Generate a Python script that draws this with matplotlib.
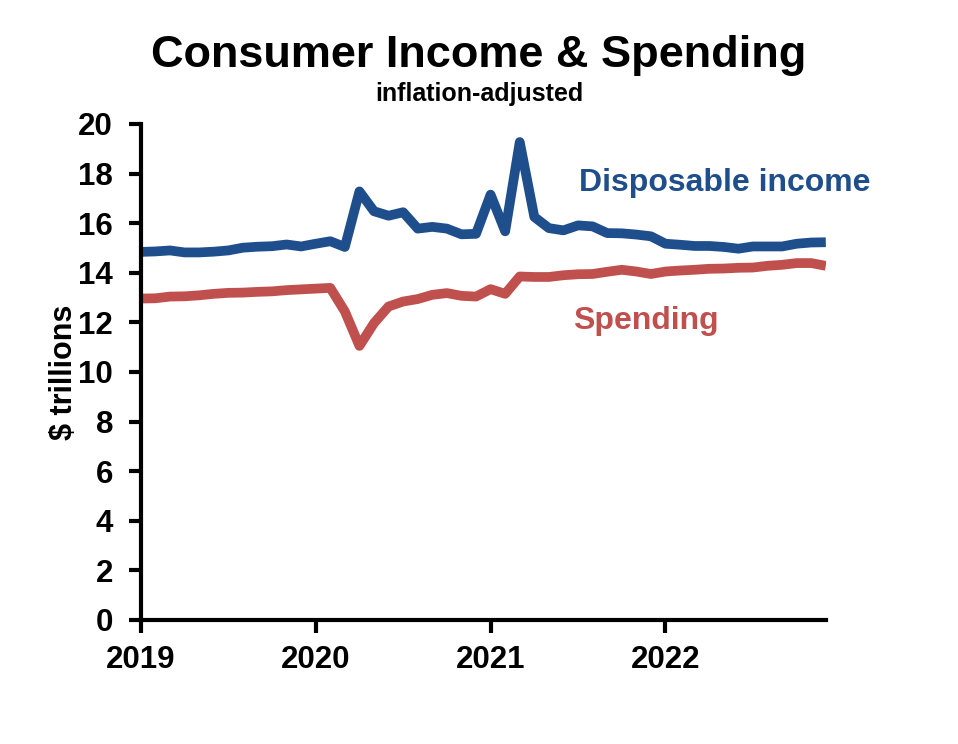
import numpy as np
import pandas as pd
import matplotlib
matplotlib.use("Agg")
import matplotlib.pyplot as plt

plt.rcParams["font.family"] = ["Liberation Sans", "DejaVu Sans"]
plt.rcParams["font.weight"] = "bold"

# monthly data, Jan 2019 - Dec 2022 ($ trillions, inflation-adjusted)
months = pd.date_range("2019-01-01", "2022-12-01", freq="MS")
income = [14.84, 14.86, 14.90, 14.82, 14.82, 14.85, 14.90, 15.01, 15.05, 15.07, 15.14, 15.06,
          15.17, 15.27, 15.04, 17.28, 16.48, 16.30, 16.44, 15.78, 15.85, 15.78, 15.55, 15.57,
          17.15, 15.67, 19.27, 16.25, 15.80, 15.71, 15.91, 15.87, 15.60, 15.59, 15.54, 15.47,
          15.17, 15.13, 15.08, 15.08, 15.04, 14.97, 15.06, 15.06, 15.06, 15.17, 15.22, 15.23]
spending = [12.96, 12.97, 13.04, 13.05, 13.09, 13.15, 13.19, 13.20, 13.23, 13.25, 13.30, 13.33,
            13.36, 13.39, 12.44, 11.05, 11.97, 12.64, 12.84, 12.94, 13.11, 13.18, 13.07, 13.04,
            13.34, 13.15, 13.85, 13.83, 13.83, 13.90, 13.94, 13.95, 14.04, 14.12, 14.05, 13.95,
            14.05, 14.09, 14.12, 14.16, 14.17, 14.20, 14.21, 14.28, 14.32, 14.39, 14.39, 14.28]
year_labels = ["2019", "2020", "2021", "2022"]

blue = "#1f4e8c"
red = "#c0504d"

x = np.arange(len(months))

fig = plt.figure(figsize=(9.58, 7.44), dpi=100)
ax = fig.add_axes([0.147, 0.1667, 0.715, 0.6667])

ax.plot(x, income, color=blue, lw=7, solid_joinstyle="round", solid_capstyle="butt")
ax.plot(x, spending, color=red, lw=7, solid_joinstyle="round", solid_capstyle="butt")

ax.set_xlim(0, len(months) - 1)
ax.set_ylim(0, 20)
ax.set_yticks(range(0, 21, 2))
ax.set_xticks([12 * i for i in range(len(year_labels))])
ax.set_xticklabels(year_labels)

for s in ["top", "right"]:
    ax.spines[s].set_visible(False)
for s in ["left", "bottom"]:
    ax.spines[s].set_linewidth(3)
ax.tick_params(axis="both", width=3, length=9, direction="out", labelsize=22.5)
ax.tick_params(axis="y", pad=11)
ax.tick_params(axis="x", pad=9)

ax.set_ylabel("$ trillions", fontsize=22, fontweight="bold")
ax.yaxis.set_label_coords(-0.09, 0.5)

ax.text(30.1, 17.31, "Disposable income", color=blue, fontsize=23,
        fontweight="bold", ha="left", va="baseline", clip_on=False)
ax.text(29.63, 11.74, "Spending", color=red, fontsize=23,
        fontweight="bold", ha="left", va="baseline")

fig.text(0.5, 0.91, "Consumer Income & Spending", fontsize=32.5,
         fontweight="bold", ha="center", va="baseline")
fig.text(0.5, 0.8647, "inflation-adjusted", fontsize=18,
         fontweight="bold", ha="center", va="baseline")

fig.savefig("out.png", dpi=100)
